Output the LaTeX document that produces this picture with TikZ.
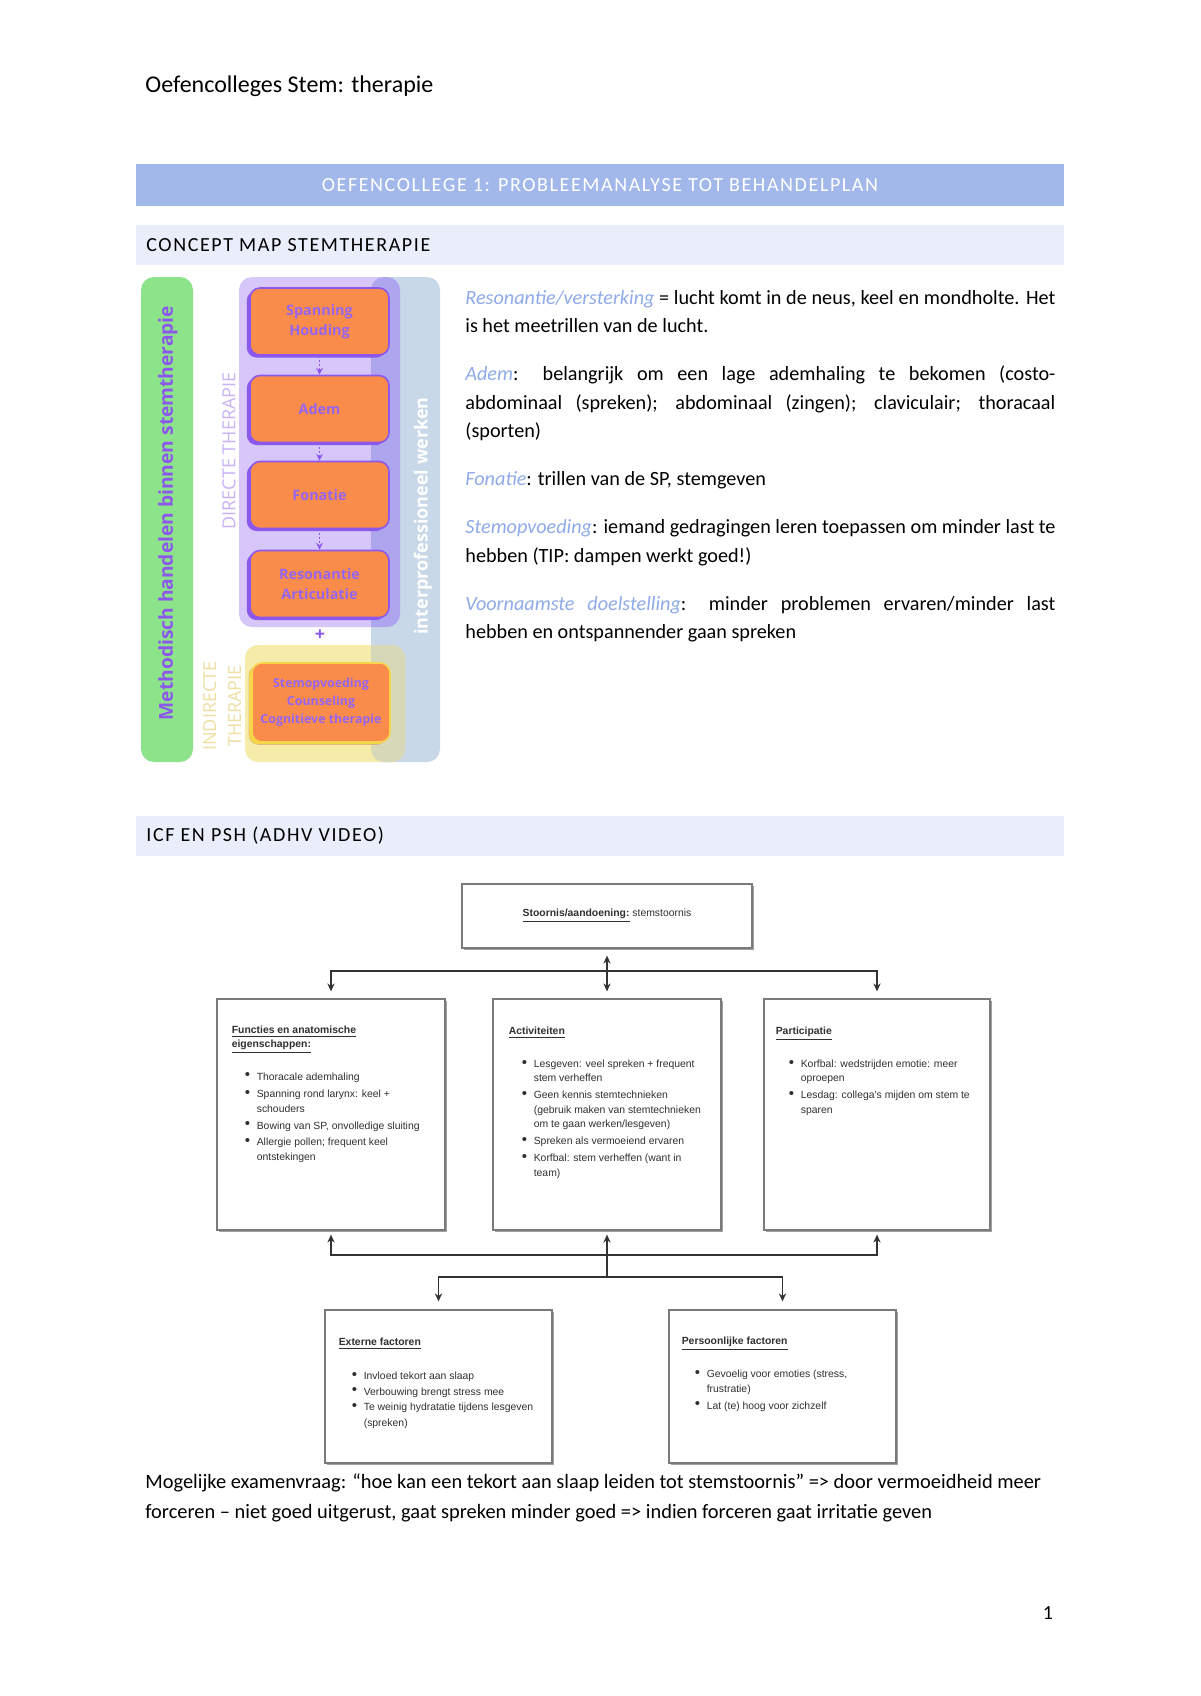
\documentclass[tikz,border=0pt]{standalone}
\usepackage{fontspec}
\setmainfont{Carlito}
\newfontfamily\osans{Open Sans}
\newfontfamily\icffont{Liberation Sans}
\newfontfamily\capsfont[LetterSpace=8]{Carlito}
\usetikzlibrary{arrows.meta,shadows}

\definecolor{hdrblue}{HTML}{A3B8EA}
\definecolor{hdrlight}{HTML}{EAEEFA}
\definecolor{mgreen}{HTML}{8DE38A}
\definecolor{mpurple}{HTML}{8C58EC}
\definecolor{otext}{HTML}{9565F0}
\definecolor{lavender}{HTML}{D6C6FA}
\definecolor{steel}{HTML}{C8D8E8}
\definecolor{lavsteel}{HTML}{ADA6EF}
\definecolor{paleyellow}{HTML}{F5ECAA}
\definecolor{yelsteel}{HTML}{D6D8B8}
\definecolor{morange}{HTML}{FA8C4B}
\definecolor{dirtxt}{HTML}{C9B2F6}
\definecolor{indtxt}{HTML}{EEDFA2}
\definecolor{lblblue}{HTML}{8EAAE8}
\definecolor{boxgray}{HTML}{7A7A7A}
\definecolor{shadowgray}{HTML}{A0A0A0}
\definecolor{conngray}{HTML}{333333}
\definecolor{yelborder}{HTML}{F7D54A}
\definecolor{icftxt}{HTML}{303030}

\newcommand{\bi}[1]{\hspace*{6.5pt}\makebox[6pt][l]{\raisebox{0.2pt}{\fontsize{7.5}{7}\selectfont\textbullet}}#1}
\newcommand{\bc}[1]{\hspace*{12.5pt}#1}
\newcommand{\lbl}[1]{\textcolor{lblblue}{\textit{#1}}}
\newcommand{\jl}[1]{\makebox[295pt][s]{#1}}
\newcommand{\toplines}[1]{\begin{tabular}[t]{@{}l@{}}#1\end{tabular}}

\tikzset{
  hdrtext/.style={font=\capsfont\fontsize{10}{12}\selectfont, inner sep=0pt},
  obox/.style={draw=mpurple, line width=0.8pt, fill=morange, rounded corners=5pt,
    minimum width=69.5pt, minimum height=33.5pt, inner sep=0pt, align=center,
    text=otext, font=\osans\bfseries\fontsize{7.2}{10}\selectfont,
    general shadow={fill=mpurple, shadow xshift=-1.6pt, shadow yshift=-1.3pt}},
  icfbox/.style={draw=boxgray, line width=0.6pt, fill=white, inner sep=0pt,
    general shadow={fill=shadowgray, shadow xshift=1pt, shadow yshift=-1pt}},
  icftext/.style={anchor=base west, inner sep=0pt, text=icftxt,
    font=\icffont\fontsize{5.2}{7.2}\selectfont},
  conn/.style={draw=conngray, line width=0.9pt},
  arr/.style={-{Stealth[length=4pt,width=3.6pt]}},
  dotarr/.style={draw=mpurple, line width=0.9pt, dash pattern=on 0.9pt off 1.1pt,
    -{Stealth[length=3.4pt,width=3.4pt]}},
  vlabel/.style={rotate=90, inner sep=0pt, align=center},
  bodytext/.style={anchor=base west, inner sep=0pt, font=\fontsize{10.1}{14.25}\selectfont},
}

\begin{document}
\begin{tikzpicture}[x=0.5pt,y=-0.5pt]
\useasboundingbox[fill=white] (0,0) rectangle (1200,1696);

% page title
\node[anchor=base west, inner sep=0pt, font=\fontsize{12}{14}\selectfont] (title) at (145,93) {Oefencolleges Stem: therapie};

% header bars
\fill[hdrblue] (136,164) rectangle (1064,206);
\node[hdrtext, text=white] (h1) at (600,185) {OEFENCOLLEGE 1: PROBLEEMANALYSE TOT BEHANDELPLAN};
\fill[hdrlight] (136,225) rectangle (1064,265);
\node[hdrtext, anchor=west] (h2) at (146,245) {CONCEPT MAP STEMTHERAPIE};

% ---------- concept map ----------
\fill[mgreen, rounded corners=6.5pt] (141,277) rectangle (193,762);
\fill[steel, rounded corners=6.5pt] (371,277) rectangle (440,762);
\fill[lavender, rounded corners=6.5pt] (239,277) rectangle (400,627);
\begin{scope}
  \clip[rounded corners=6.5pt] (371,277) rectangle (440,762);
  \fill[lavsteel, rounded corners=6.5pt] (239,277) rectangle (400,627);
\end{scope}
\fill[paleyellow, rounded corners=6.5pt] (245,645) rectangle (405,762);
\begin{scope}
  \clip[rounded corners=6.5pt] (371,277) rectangle (440,762);
  \fill[yelsteel, rounded corners=6.5pt] (245,645) rectangle (405,762);
\end{scope}

\node[vlabel, text=mpurple, font=\osans\bfseries\fontsize{9.6}{11}\selectfont] (meth) at (168,513) {Methodisch handelen binnen stemtherapie};
\node[vlabel, text=dirtxt, font=\osans\fontsize{9}{11}\selectfont] (dir) at (229,451) {DIRECTE THERAPIE};
\node[vlabel, text=indtxt, font=\osans\fontsize{9}{12.5}\selectfont] (ind) at (222,706) {INDIRECTE\\THERAPIE};
\node[vlabel, text=white, font=\osans\bfseries\fontsize{9}{11}\selectfont] (inter) at (423,516) {interprofessioneel werken};

\node[obox] (o1) at (319.5,321.5) {Spanning\\Houding};
\node[obox] (o2) at (319.5,409) {Adem};
\node[obox] (o3) at (319.5,495) {Fonatie};
\node[obox] (o4) at (319.5,584) {Resonantie\\Articulatie};
\node[obox, draw=yelborder, minimum width=69pt, minimum height=39.5pt,
  font=\osans\bfseries\fontsize{6.2}{9}\selectfont,
  general shadow={fill=yelborder, shadow xshift=-1.6pt, shadow yshift=-1.3pt}]
  (o5) at (321,702.5) {Stemopvoeding\\Counseling\\Cognitieve therapie};
\node[text=mpurple, inner sep=0pt, font=\osans\bfseries\fontsize{9}{10}\selectfont] (plus) at (320,635) {+};

\draw[dotarr] (o1.south) -- (o2.north);
\draw[dotarr] (o2.south) -- (o3.north);
\draw[dotarr] (o3.south) -- (o4.north);

% ---------- explanation text ----------
\node[bodytext] (notes) at (465,304) {\toplines{%
\jl{\lbl{Resonantie/versterking} = lucht komt in de neus, keel en mondholte. Het}\\
is het meetrillen van de lucht.\\[9.75pt]
\jl{\lbl{Adem}: belangrijk om een lage ademhaling te bekomen (costo-}\\
\jl{abdominaal (spreken); abdominaal (zingen); claviculair; thoracaal}\\
(sporten)\\[9.75pt]
\lbl{Fonatie}: trillen van de SP, stemgeven\\[9.75pt]
\jl{\lbl{Stemopvoeding}: iemand gedragingen leren toepassen om minder last te}\\
hebben (TIP: dampen werkt goed!)\\[9.75pt]
\jl{\lbl{Voornaamste doelstelling}: minder problemen ervaren/minder last}\\
hebben en ontspannender gaan spreken}};

% ---------- ICF section ----------
\fill[hdrlight] (136,816) rectangle (1064,856);
\node[hdrtext, anchor=west] (h3) at (146,836) {ICF EN PSH (ADHV VIDEO)};

\node[icfbox, minimum width=145pt, minimum height=32pt, text=icftxt,
  font=\icffont\fontsize{5.2}{7}\selectfont] (top) at (607,916)
  {\underline{\textbf{Stoornis/aandoening:}} stemstoornis};

\node[icfbox, minimum width=114pt, minimum height=115.5pt] (A) at (331,1114.5) {};
\node[icfbox, minimum width=114pt, minimum height=115.5pt] (B) at (607,1114.5) {};
\node[icfbox, minimum width=113pt, minimum height=115.5pt] (C) at (877,1114.5) {};
\node[icfbox, minimum width=113.5pt, minimum height=76.5pt] (D) at (438.5,1386.5) {};
\node[icfbox, minimum width=113.5pt, minimum height=76.5pt] (E) at (782.5,1386.5) {};

\node[icftext] (Atext) at ([shift={(15,35)}]A.north west) {\toplines{%
\underline{\textbf{Functies en anatomische}}\\
\underline{\textbf{eigenschappen:}}\\[9pt]
\bi{Thoracale ademhaling}\\[1.6pt]
\bi{Spanning rond larynx: keel +}\\
\bc{schouders}\\[1.2pt]
\bi{Bowing van SP, onvolledige sluiting}\\[1.2pt]
\bi{Allergie pollen; frequent keel}\\
\bc{ontstekingen}}};

\node[icftext] (Btext) at ([shift={(16,36)}]B.north west) {\toplines{%
\underline{\textbf{Activiteiten}}\\[9.3pt]
\bi{Lesgeven: veel spreken + frequent}\\
\bc{stem verheffen}\\[1.3pt]
\bi{Geen kennis stemtechnieken}\\
\bc{(gebruik maken van stemtechnieken}\\
\bc{om te gaan werken/lesgeven)}\\[1.3pt]
\bi{Spreken als vermoeiend ervaren}\\[1.3pt]
\bi{Korfbal: stem verheffen (want in}\\
\bc{team)}}};

\node[icftext] (Ctext) at ([shift={(12,36)}]C.north west) {\toplines{%
\underline{\textbf{Participatie}}\\[9.3pt]
\bi{Korfbal: wedstrijden emotie: meer}\\
\bc{oproepen}\\[1.3pt]
\bi{Lesdag: collega’s mijden om stem te}\\
\bc{sparen}}};

\node[icftext] (Dtext) at ([shift={(14,36)}]D.north west) {\toplines{%
\underline{\textbf{Externe factoren}}\\[9.8pt]
\bi{Invloed tekort aan slaap}\\[0.6pt]
\bi{Verbouwing brengt stress mee}\\[0.6pt]
\bi{Te weinig hydratatie tijdens lesgeven}\\[0.6pt]
\bc{(spreken)}}};

\node[icftext] (Etext) at ([shift={(13,35)}]E.north west) {\toplines{%
\underline{\textbf{Persoonlijke factoren}}\\[9.5pt]
\bi{Gevoelig voor emoties (stress,}\\
\bc{frustratie)}\\[1.2pt]
\bi{Lat (te) hoog voor zichzelf}}};

% connectors
\coordinate (j1) at (607,971);
\coordinate (j2) at (607,1255);
\coordinate (j3) at (607,1277);
\draw[conn, {Stealth[length=4pt,width=3.6pt]}-{Stealth[length=4pt,width=3.6pt]}, shorten <=3.5pt, shorten >=3.5pt] (top.south) -- (B.north);
\draw[conn, arr, shorten >=3.5pt] (j1) -| (A.north);
\draw[conn, arr, shorten >=3.5pt] (j1) -| (C.north);
\draw[conn, arr, shorten >=2pt] (j2) -| (A.south);
\draw[conn, arr, shorten >=2pt] (j2) -| (C.south);
\draw[conn, arr, shorten >=2pt] (j3) -- (B.south);
\draw[conn, arr, shorten >=4pt] (j3) -| (D.north);
\draw[conn, arr, shorten >=4pt] (j3) -| (E.north);

% exam question
\node[bodytext, font=\fontsize{10.2}{15}\selectfont] (exam) at (145,1488) {\toplines{%
Mogelijke examenvraag: “hoe kan een tekort aan slaap leiden tot stemstoornis” => door vermoeidheid meer\\
forceren – niet goed uitgerust, gaat spreken minder goed => indien forceren gaat irritatie geven}};

% page number
\node[inner sep=0pt, font=\fontsize{10}{12}\selectfont] (pnum) at (1048,1613) {1};
\end{tikzpicture}
\end{document}
